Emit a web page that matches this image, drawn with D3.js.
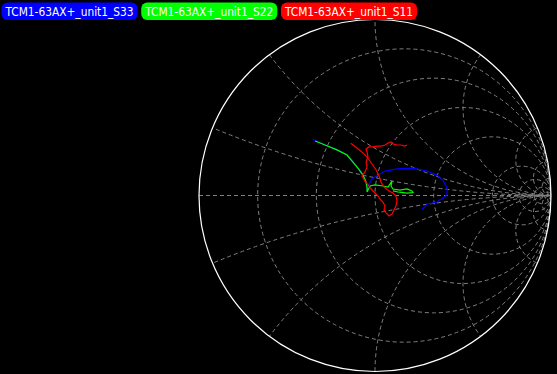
<!DOCTYPE html>
<meta charset="utf-8">
<script src="https://d3js.org/d3.v7.min.js"></script>
<style>
  body { margin: 0; background: #000; }
</style>
<div id="vis"></div>
<script>

// series names, colours and reflection coefficients (re, im)
var seriesNames = ["TCM1-63AX+_unit1_S33", "TCM1-63AX+_unit1_S22", "TCM1-63AX+_unit1_S11"];
var seriesColors = ["#0000ff", "#00ff00", "#ff0000"];

var s33Re = [-0.353, -0.284, -0.216, -0.159, -0.125, -0.097, -0.068, -0.051, -0.045, -0.034, -0.017, 0.017, 0.057, 0.125, 0.216, 0.295, 0.352, 0.386, 0.409, 0.409, 0.386, 0.352, 0.324, 0.295, 0.284, 0.267];
var s33Im = [0.318, 0.287, 0.259, 0.230, 0.190, 0.156, 0.116, 0.077, 0.043, 0.065, 0.094, 0.116, 0.139, 0.151, 0.156, 0.139, 0.116, 0.088, 0.043, 0.003, -0.014, -0.037, -0.043, -0.048, -0.065, -0.077];

var s22Re = [-0.340, -0.284, -0.216, -0.159, -0.125, -0.097, -0.068, -0.051, -0.045, -0.045, -0.028, 0.000, 0.045, 0.074, 0.085, 0.097, 0.091, 0.102, 0.142, 0.182, 0.210, 0.216, 0.182, 0.131, 0.102];
var s22Im = [0.310, 0.287, 0.259, 0.230, 0.190, 0.156, 0.116, 0.077, 0.043, 0.020, 0.054, 0.060, 0.054, 0.048, 0.065, 0.082, 0.054, 0.037, 0.031, 0.037, 0.026, 0.017, 0.014, 0.020, 0.026];

var s11Re = [-0.138, -0.102, -0.068, -0.040, -0.017, 0.006, 0.023, 0.034, 0.051, 0.080, 0.102, 0.119, 0.125, 0.119, 0.108, 0.097, 0.080, 0.063, 0.051, 0.057, 0.045, 0.028, 0.017, 0.000, -0.017, -0.034, -0.057, -0.074, -0.057, -0.045, -0.051, -0.040, -0.045, -0.051, -0.034, -0.011, 0.011, 0.034, 0.057, 0.074, 0.091, 0.102, 0.125, 0.148, 0.170, 0.182];
var s11Im = [0.297, 0.270, 0.241, 0.213, 0.179, 0.145, 0.111, 0.077, 0.048, 0.026, 0.014, -0.003, -0.031, -0.060, -0.082, -0.105, -0.116, -0.099, -0.082, -0.060, -0.037, -0.020, -0.003, 0.014, 0.031, 0.054, 0.082, 0.111, 0.134, 0.162, 0.190, 0.219, 0.247, 0.264, 0.276, 0.276, 0.281, 0.281, 0.287, 0.298, 0.304, 0.293, 0.287, 0.287, 0.281, 0.287];

// grid values of the smith chart
var resistances = [0.2, 0.5, 1, 2, 5, 10, 20, 50];
var reactances = [0.2, 0.5, 1, 2, 5, 10, 20, 50];

var width = 557, height = 374;
var cx = 375, cy = 195.5, R = 176;

var svg = d3.select("#vis")
  .append("svg")
    .attr("width", width)
    .attr("height", height)
    .style("background", "#000");

var x = d3.scaleLinear().domain([-1, 1]).range([cx - R, cx + R]);
var y = d3.scaleLinear().domain([-1, 1]).range([cy + R, cy - R]);
var len = function (v) { return x(v) - x(0); };

svg.append("clipPath").attr("id", "unit")
  .append("circle")
    .attr("cx", x(0)).attr("cy", y(0)).attr("r", len(1));

var grid = svg.append("g")
    .attr("clip-path", "url(#unit)")
    .attr("fill", "none")
    .attr("stroke", "#808080")
    .attr("stroke-width", 1)
    .attr("stroke-dasharray", "4,3");

// horizontal axis
grid.append("line")
    .attr("x1", x(-1)).attr("x2", x(1))
    .attr("y1", y(0)).attr("y2", y(0));

// constant resistance circles
grid.selectAll(".rc")
  .data(resistances)
  .enter().append("circle")
    .attr("cx", function (r) { return x(r / (r + 1)); })
    .attr("cy", y(0))
    .attr("r", function (r) { return len(1 / (r + 1)); });

// constant reactance arcs (both signs)
var arcs = [];
reactances.forEach(function (v) { arcs.push(v); arcs.push(-v); });
grid.selectAll(".xc")
  .data(arcs)
  .enter().append("circle")
    .attr("cx", x(1))
    .attr("cy", function (v) { return y(1 / v); })
    .attr("r", function (v) { return len(1 / Math.abs(v)); });

// outer circle
svg.append("circle")
    .attr("cx", x(0)).attr("cy", y(0)).attr("r", len(1))
    .attr("fill", "none")
    .attr("stroke", "#ffffff")
    .attr("stroke-width", 1.2);

// traces
var series = [
  {re: s33Re, im: s33Im},
  {re: s22Re, im: s22Im},
  {re: s11Re, im: s11Im}
];
var line = d3.line()
    .x(function (d) { return x(d[0]); })
    .y(function (d) { return y(d[1]); });

series.forEach(function (s, i) {
  var pts = s.re.map(function (v, k) { return [v, s.im[k]]; });
  svg.append("path")
      .datum(pts)
      .attr("d", line)
      .attr("fill", "none")
      .attr("stroke", seriesColors[i])
      .attr("stroke-width", 1.2);
});

// legend badges
var lx = 1.5;
seriesNames.forEach(function (name, i) {
  var g = svg.append("g");
  var rect = g.append("rect")
      .attr("x", lx).attr("y", 2.5)
      .attr("height", 17.5)
      .attr("rx", 6).attr("ry", 6)
      .attr("fill", seriesColors[i]);
  var t = g.append("text")
      .attr("x", lx + 4).attr("y", 16)
      .attr("fill", "#ffffff")
      .style("font-family", "'DejaVu Sans Condensed', 'DejaVu Sans', sans-serif")
      .style("font-stretch", "condensed")
      .style("font-size", "11.8px")
      .text(name);
  var w = t.node().getComputedTextLength() + 8;
  rect.attr("width", w);
  lx += w + 3.7;
});

</script>
